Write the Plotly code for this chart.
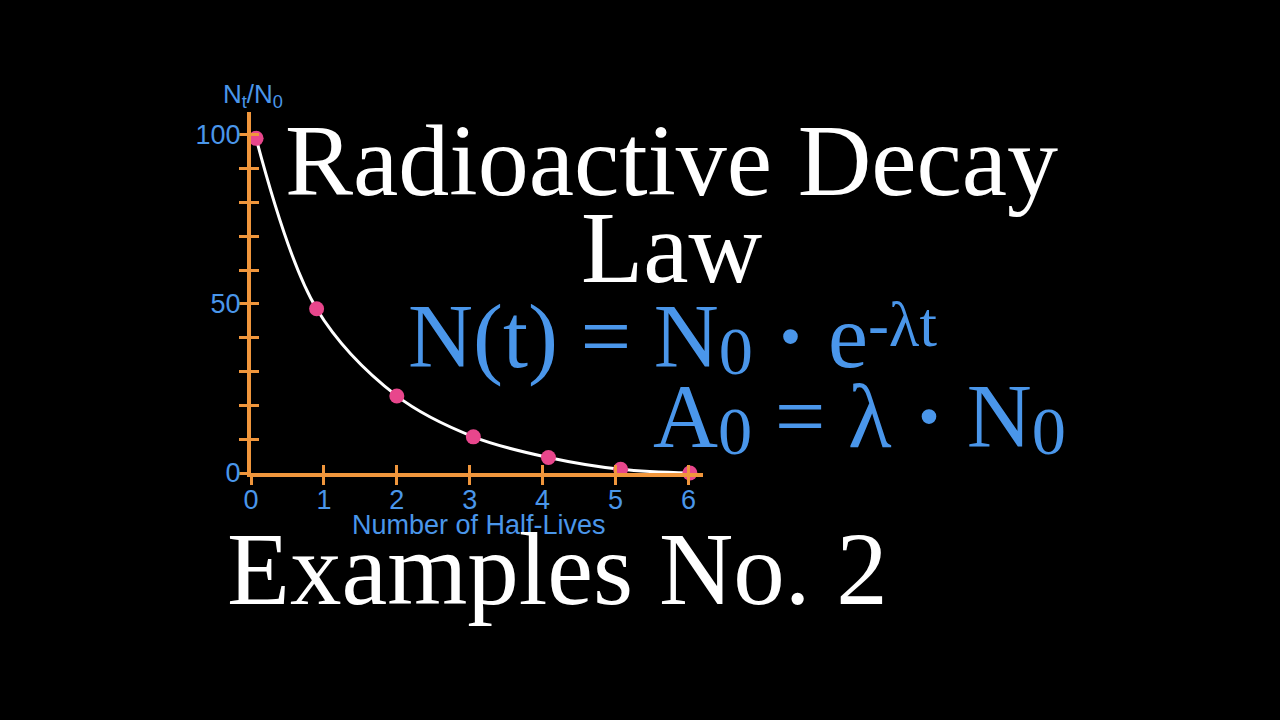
import plotly.graph_objects as go

# ---- data ----
half_lives = [0.07, 0.9, 2.0, 3.05, 4.08, 5.07, 6.02]
remaining = [99.0, 48.6, 22.8, 10.7, 4.6, 1.1, 0.0]

x_tick_vals = [0, 1, 2, 3, 4, 5, 6]
x_tick_text = ["0", "1", "2", "3", "4", "5", "6"]
y_tick_vals = [0, 10, 20, 30, 40, 50, 60, 70, 80, 90, 100]
y_tick_text = ["0", "", "", "", "", "50", "", "", "", "", "100"]

x_title = "Number of Half-Lives"
y_title = "N<sub>t</sub>/N<sub>0</sub>"
title_line1 = "Radioactive Decay"
title_line2 = "Law"
SUB = '<span style="font-size:76%;baseline-shift:-7px">0</span>'
SUP = '<span style="font-size:70%;baseline-shift:21px">-λt</span>'
formula1 = "N(t) = N" + SUB + " <b>·</b> e" + SUP
formula2 = "A" + SUB + " = λ <b>·</b> N" + SUB
subtitle = "Examples No. 2"

# ---- style ----
W, H = 1280, 720
L, R, T, B = 251, 577, 112, 247
ORANGE = "#F0963C"
BLUE = "#4A96EA"
PINK = "#E8468C"
SERIF = "Liberation Serif, Times New Roman, serif"
SANS = "Liberation Sans, Arial, Helvetica, sans-serif"


def pxx(p):
    return (p - L) / (W - L - R)


def pxy(p):
    return (H - B - p) / (H - T - B)


fig = go.Figure()
fig.add_trace(go.Scatter(
    x=half_lives, y=remaining, mode="lines",
    line=dict(color="white", width=3, shape="spline", smoothing=1.0),
    hoverinfo="skip", cliponaxis=False, showlegend=False,
))
fig.add_trace(go.Scatter(
    x=half_lives, y=remaining, mode="markers",
    marker=dict(color=PINK, size=15, line=dict(width=0)),
    cliponaxis=False, showlegend=False,
))

tickfont = dict(family=SANS, size=27, color=BLUE)

fig.update_layout(
    width=W, height=H,
    margin=dict(l=L, r=R, t=T, b=B, pad=0),
    paper_bgcolor="black", plot_bgcolor="black",
    showlegend=False,
    xaxis=dict(
        range=[0, 6.2], showgrid=False, zeroline=False,
        showline=True, linecolor=ORANGE, linewidth=4,
        ticks="outside", ticklen=8, tickwidth=3, tickcolor=ORANGE,
        tickvals=x_tick_vals, ticktext=x_tick_text, tickfont=tickfont,
        ticklabelstandoff=-8,
    ),
    xaxis2=dict(
        range=[0, 6.2], overlaying="x", showgrid=False, zeroline=False,
        showline=False, ticks="inside", ticklen=8, tickwidth=3, tickcolor=ORANGE,
        tickvals=x_tick_vals, showticklabels=False, side="bottom",
    ),
    yaxis=dict(
        range=[0, 106.8], showgrid=False, zeroline=False,
        showline=True, linecolor=ORANGE, linewidth=4,
        ticks="outside", ticklen=8, tickwidth=3, tickcolor=ORANGE,
        tickvals=y_tick_vals, ticktext=y_tick_text, tickfont=tickfont,
        ticklabelstandoff=-7,
    ),
    yaxis2=dict(
        range=[0, 106.8], overlaying="y", showgrid=False, zeroline=False,
        showline=False, ticks="inside", ticklen=8, tickwidth=3, tickcolor=ORANGE,
        tickvals=y_tick_vals, showticklabels=False, side="left",
    ),
)

# invisible trace to activate the overlay axes (inner half of the ticks)
fig.add_trace(go.Scatter(x=[None], y=[None], xaxis="x2", yaxis="y2",
                         showlegend=False, hoverinfo="skip"))

ann = [
    dict(text=y_title, x=pxx(253), y=pxy(95), xanchor="center", yanchor="middle",
         font=dict(family=SANS, size=26, color=BLUE)),
    dict(text=x_title, x=pxx(479), y=pxy(525), xanchor="center", yanchor="middle",
         font=dict(family=SANS, size=27, color=BLUE)),
    dict(text=title_line1, x=pxx(671), y=pxy(160), xanchor="center", yanchor="middle",
         font=dict(family=SERIF, size=102, color="white")),
    dict(text=title_line2, x=pxx(672), y=pxy(247), xanchor="center", yanchor="middle",
         font=dict(family=SERIF, size=102, color="white")),
    dict(text=formula1, x=pxx(406), y=pxy(338), xanchor="left", yanchor="middle",
         font=dict(family=SERIF, size=90, color=BLUE)),
    dict(text=formula2, x=pxx(651), y=pxy(418), xanchor="left", yanchor="middle",
         font=dict(family=SERIF, size=90, color=BLUE)),
    dict(text=subtitle, x=pxx(225), y=pxy(569), xanchor="left", yanchor="middle",
         font=dict(family=SERIF, size=103, color="white")),
]
for a in ann:
    a.update(xref="paper", yref="paper", showarrow=False)
fig.update_layout(annotations=ann)

fig.write_html(
    "out.html",
    config={"displayModeBar": False},
    post_script="document.body.style.margin='0';document.body.style.background='black';",
)
